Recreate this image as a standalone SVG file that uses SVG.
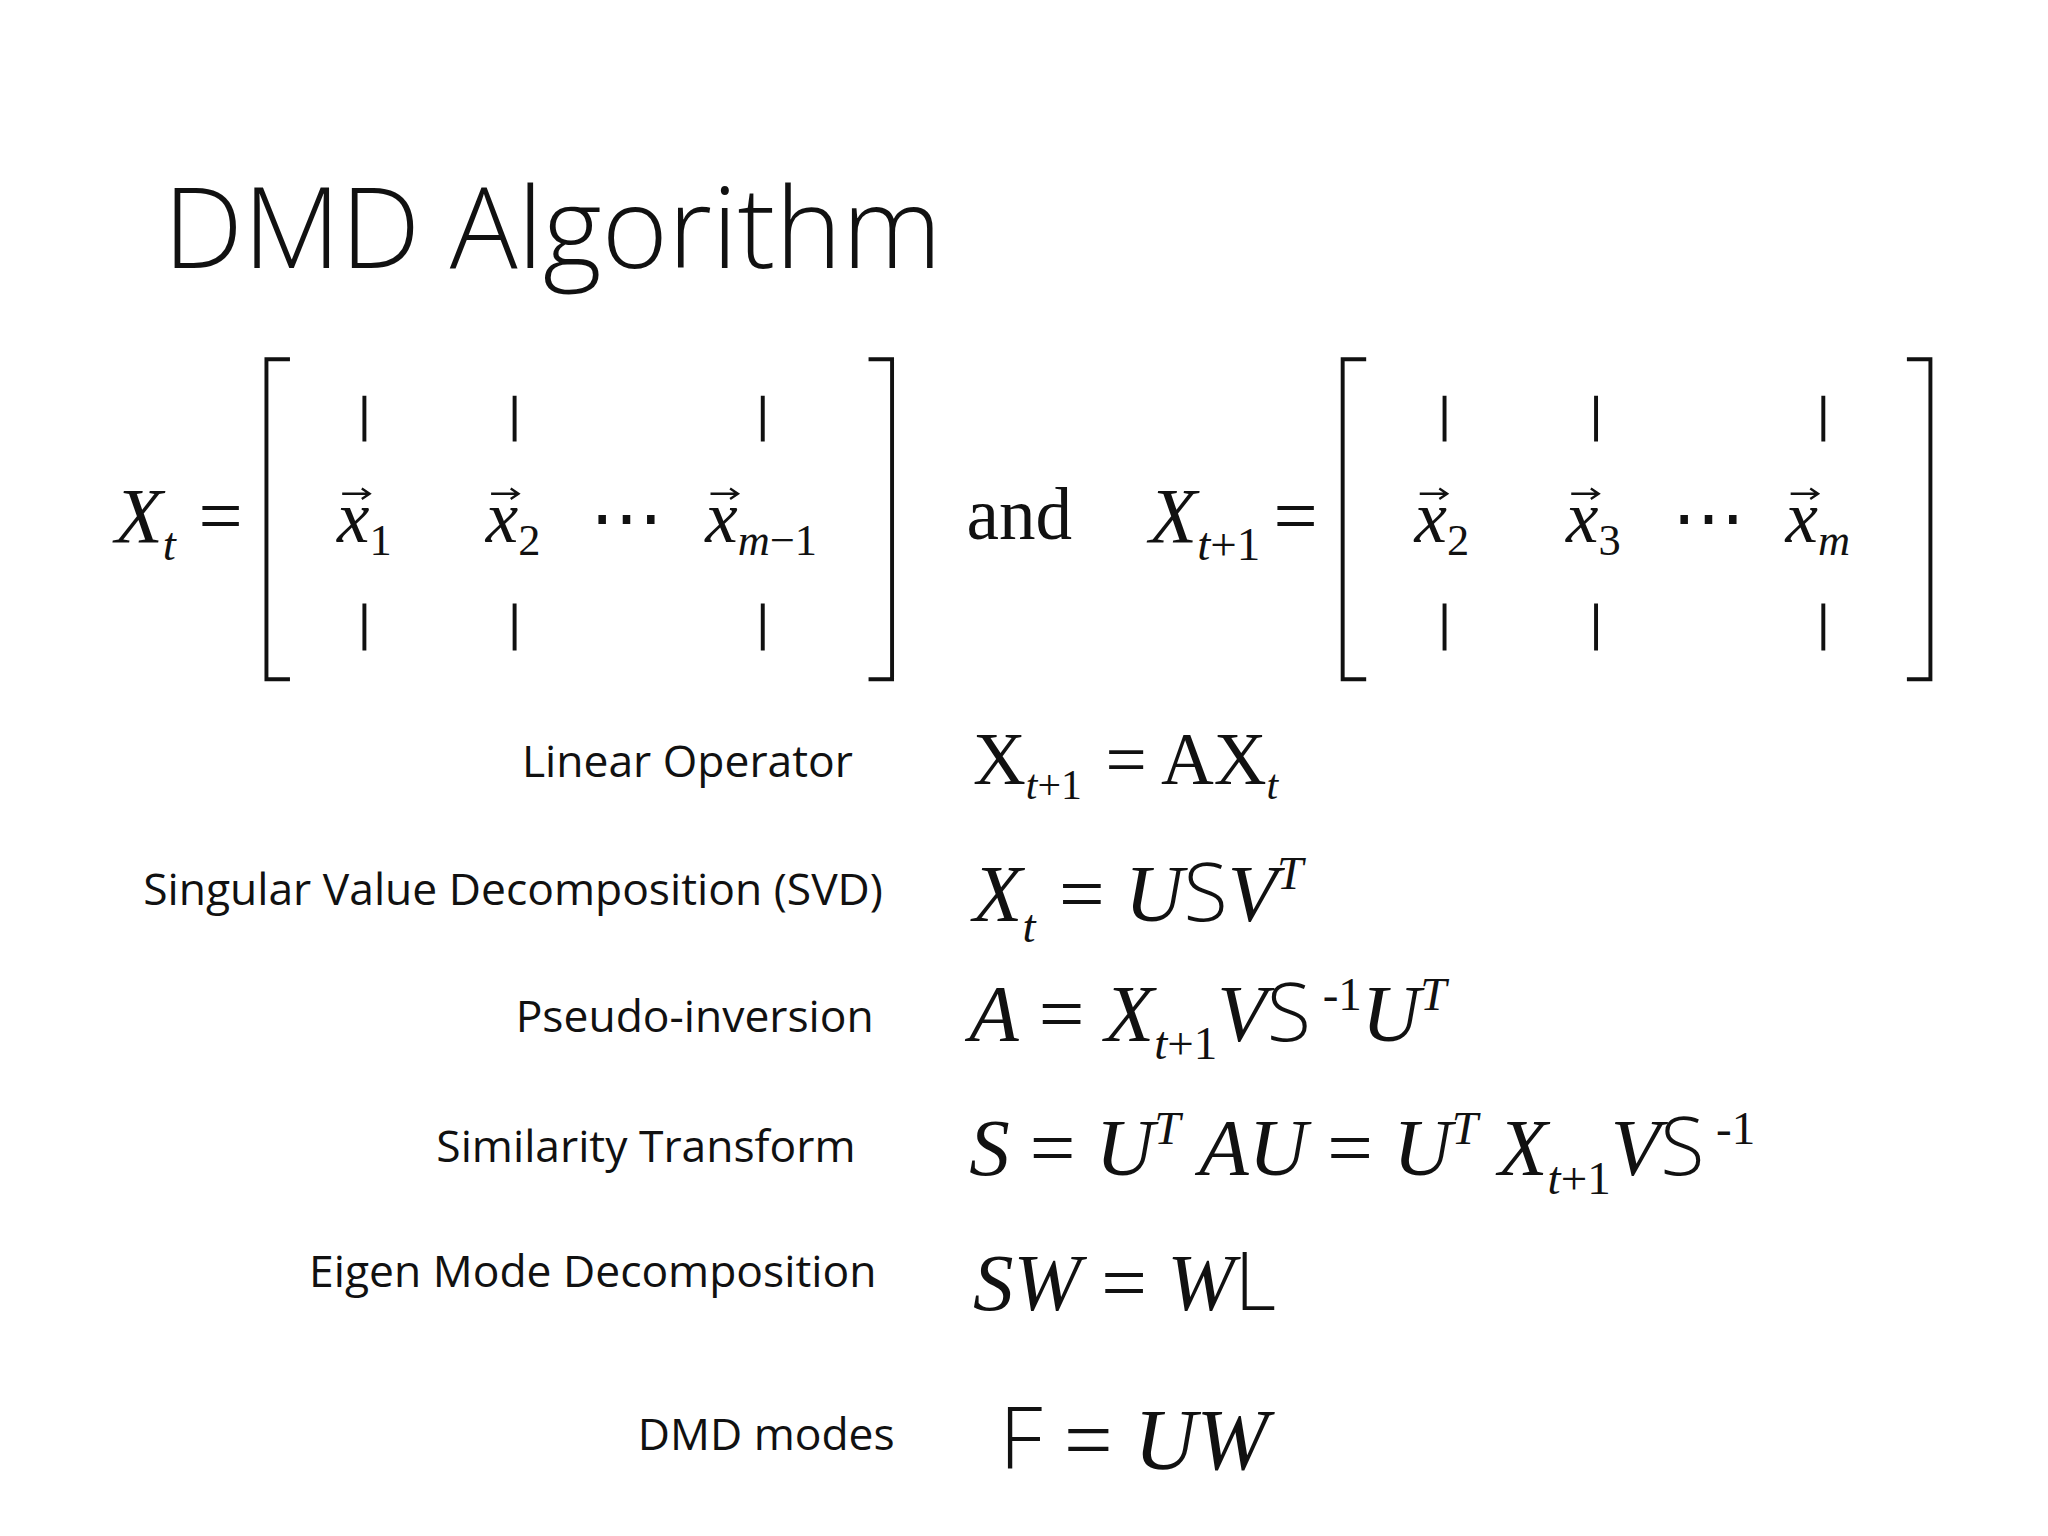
<svg xmlns="http://www.w3.org/2000/svg" width="2048" height="1536" viewBox="0 0 2048 1536">
<style>
.t{font-family:"Open Sans","Liberation Sans",sans-serif;font-weight:300;fill:#111}
.l{font-family:"Open Sans","Liberation Sans",sans-serif;font-size:34px;fill:#111;text-anchor:end}
.m{font-family:"Liberation Serif","Times New Roman",serif;fill:#111}
.i{font-style:italic}
.s{font-family:"Open Sans","Liberation Sans",sans-serif;font-style:normal;font-weight:300}
.br{fill:none;stroke:#111;stroke-width:3}
.bar{stroke:#111;stroke-width:3}
.ar{fill:none;stroke:#111;stroke-width:1.8}
</style>
<rect width="2048" height="1536" fill="#fff"/>
<g transform="scale(1.3061)">
<text id="title" class="t" x="125" y="205" font-size="86.5">DMD Algorithm</text>
<g id="matrices">
<text class="m" font-size="60" y="415"><tspan x="88" class="i">X</tspan><tspan class="i" font-size="36" dy="14">t</tspan><tspan x="152" dy="-14">=</tspan></text>
<path class="br" d="M222,275 H204 V520 H222 M665,275 H683 V520 H665"/>
<g class="bar"><path d="M279,303V338M394,303V338M584,303V338M279,462V498M394,462V498M584,462V498"/></g>
<text class="m" font-size="56" y="415"><tspan x="258" class="i">x</tspan><tspan font-size="34" dy="10">1</tspan><tspan x="372" dy="-10" class="i">x</tspan><tspan font-size="34" dy="10">2</tspan><tspan x="452" dy="-10">⋯</tspan><tspan x="540" class="i">x</tspan><tspan font-size="34" dy="10"><tspan class="i">m</tspan>−1</tspan></text>
<path class="ar" d="M262,378H282M277,374L283,378L277,382M376,378H396M391,374L397,378L391,382M544,378H564M559,374L565,378L559,382"/>
<text class="m" font-size="56" x="740" y="413">and</text>
<text class="m" font-size="60" y="415"><tspan x="880" class="i">X</tspan><tspan font-size="36" dy="14"><tspan class="i">t</tspan>+1</tspan><tspan x="975" dy="-14">=</tspan></text>
<path class="br" d="M1046,275 H1028 V520 H1046 M1460,275 H1478 V520 H1460"/>
<g class="bar"><path d="M1106,303V338M1222,303V338M1396,303V338M1106,462V498M1222,462V498M1396,462V498"/></g>
<text class="m" font-size="56" y="415"><tspan x="1083" class="i">x</tspan><tspan font-size="34" dy="10">2</tspan><tspan x="1199" dy="-10" class="i">x</tspan><tspan font-size="34" dy="10">3</tspan><tspan x="1280" dy="-10">⋯</tspan><tspan x="1367" class="i">x</tspan><tspan font-size="34" dy="10" class="i">m</tspan></text>
<path class="ar" d="M1087,378H1107M1102,374L1108,378L1102,382M1203,378H1223M1218,374L1224,378L1218,382M1371,378H1391M1386,374L1392,378L1386,382"/>
</g>
<g id="labels">
<text class="l" x="653" y="595">Linear Operator</text>
<text class="l" x="676" y="693">Singular Value Decomposition (SVD)</text>
<text class="l" x="669" y="790">Pseudo-inversion</text>
<text class="l" x="655" y="890">Similarity Transform</text>
<text class="l" x="671" y="985">Eigen Mode Decomposition</text>
<text class="l" x="685" y="1110">DMD modes</text>
</g>
<g id="equations">
<text class="m" font-size="56" x="745" y="600">X<tspan font-size="32" dy="12"><tspan class="i">t</tspan>+1</tspan><tspan dy="-12" dx="18">= AX</tspan><tspan font-size="32" dy="12" class="i">t</tspan></text>
<text class="m" font-size="62" x="745" y="705"><tspan class="i">X</tspan><tspan font-size="36" dy="16" class="i">t</tspan><tspan dy="-16" dx="18">= </tspan><tspan class="i">U</tspan><tspan class="s">S</tspan><tspan class="i">V</tspan><tspan font-size="36" dy="-24" class="i">T</tspan></text>
<text class="m" font-size="62" x="742" y="797"><tspan class="i">A</tspan> = <tspan class="i">X</tspan><tspan font-size="36" dy="14"><tspan class="i">t</tspan>+1</tspan><tspan dy="-14" class="i">V</tspan><tspan class="s">S</tspan><tspan font-size="36" dy="-24"> -1</tspan><tspan dy="24" class="i">U</tspan><tspan font-size="36" dy="-24" class="i">T</tspan></text>
<text class="m" font-size="62" x="742" y="900"><tspan class="i">S</tspan> = <tspan class="i">U</tspan><tspan font-size="36" dy="-24" class="i">T</tspan><tspan dy="24" class="i"> AU</tspan> = <tspan class="i">U</tspan><tspan font-size="36" dy="-24" class="i">T</tspan><tspan dy="24" class="i"> X</tspan><tspan font-size="36" dy="14"><tspan class="i">t</tspan>+1</tspan><tspan dy="-14" class="i">V</tspan><tspan class="s">S</tspan><tspan font-size="36" dy="-24"> -1</tspan></text>
<text class="m" font-size="62" x="745" y="1003"><tspan class="i">SW</tspan> = <tspan class="i">W</tspan><tspan class="s">L</tspan></text>
<text class="m" font-size="66" x="765" y="1125"><tspan class="s">F</tspan> = <tspan class="i">UW</tspan></text>
</g>
</g>
</svg>
